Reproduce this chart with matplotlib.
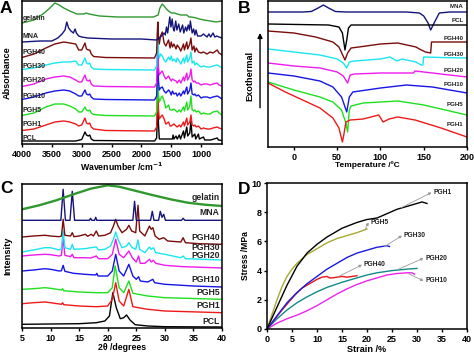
import matplotlib
matplotlib.use('Agg')
import matplotlib.pyplot as plt

plt.rcParams['font.family'] = ['Liberation Sans', 'DejaVu Sans']
plt.rcParams['font.weight'] = 'bold'
plt.rcParams['axes.linewidth'] = 1.1
plt.rcParams['xtick.major.width'] = 1.0
plt.rcParams['ytick.major.width'] = 1.0
plt.rcParams['xtick.major.size'] = 2.5
plt.rcParams['ytick.major.size'] = 2.5
plt.rcParams['mathtext.default'] = 'bf'

# ---------------- colours ----------------
C_GEL = '#2f992f'; C_MNA = '#14147a'; C_40 = '#7a0c0c'; C_30 = '#19e6f0'
C_20 = '#ee1aee'; C_10 = '#1515e6'; C_5 = '#1ee01e'; C_1 = '#ee1a1a'; C_PCL = '#000000'

# ---------------- Panel A : FTIR ----------------
ftir_names = ['PCL', 'PGH1', 'PGH5', 'PGH10', 'PGH20', 'PGH30', 'PGH40', 'MNA', 'gelatin']
ftir_offsets = [3, 13, 28, 44, 57, 74, 86, 105, 127]
wn_pgh = [4000, 3800, 3600, 3450, 3300, 3200, 3100, 3050, 3000, 2945, 2920, 2890, 2865, 2840,
          2800, 2600, 1780, 1745, 1735, 1725, 1715, 1700, 1680, 1650, 1620, 1590, 1545, 1520,
          1500, 1480, 1455, 1420, 1400, 1365, 1340, 1295, 1280, 1240, 1225, 1190, 1170, 1150,
          1120, 1105, 1080, 1045, 1000, 960, 900, 850, 800, 730, 700, 650]
ab_pgh1 = [0.5, 2, 6, 9, 10, 9, 7, 5, 6, 13, 8, 7, 8, 4, 2, 0.5, 0, 4, 20, 45, 22, 12, 14, 16,
           12, 7, 9, 5, 5, 6, 7, 5, 4, 6, 4, 9, 5, 13, 6, 9, 16, 6, 5, 6, 4, 5, 2, 3, 2, 2, 3, 4, 3, 2]
ab_pgh5 = [0.5, 3, 9, 12, 12, 10, 7, 4, 4, 9, 6, 5, 6, 3, 1.5, 0.5, 0, 4, 20, 42, 22, 14, 17, 20,
           15, 8, 11, 6, 6, 6, 7, 5, 4, 6, 4, 9, 5, 14, 6, 10, 20, 6, 5, 6, 4, 5, 2, 3, 2, 2, 4, 5, 3, 1]
ab_pgh10 = [0.5, 3, 7, 9, 10, 9, 6, 4, 4, 10, 6, 5, 6, 3, 1, 0.5, 0, 4, 22, 42, 20, 10, 12, 13,
            9, 7, 10, 8, 5, 9, 6, 7, 4, 7, 4, 9, 6, 13, 6, 10, 17, 6, 5, 6, 4, 5, 2, 3, 3, 2, 3, 4, 3, 1]
ab_pgh20 = [0.5, 3, 8, 10, 11, 10, 7, 5, 5, 12, 7, 6, 7, 3, 1, 0.5, 0, 4, 22, 40, 20, 12, 14, 16,
            11, 8, 11, 8, 6, 8, 7, 6, 4, 7, 4, 10, 6, 14, 7, 11, 18, 7, 5, 6, 4, 4, 2, 3, 3, 2, 3, 4, 2, 1]
ab_pgh30 = [0.5, 2, 5, 7, 8, 8, 9, 5, 5, 12, 7, 6, 7, 3, 1, 0.5, 0, 4, 22, 38, 18, 12, 16, 14,
            10, 8, 13, 10, 14, 9, 11, 8, 12, 9, 6, 12, 7, 15, 8, 12, 18, 7, 9, 5, 7, 5, 3, 4, 3, 3, 4, 5, 4, 2]
ab_pgh40 = [0.5, 4, 10, 14, 16, 15, 14, 8, 8, 15, 9, 8, 8, 4, 1.5, 0.5, 0, 5, 24, 36, 22, 14, 22, 26,
            15, 12, 18, 10, 16, 11, 14, 9, 13, 10, 7, 14, 8, 16, 9, 14, 20, 8, 12, 6, 10, 6, 5, 6, 4, 6, 5, 8, 5, 3]
wn_pcl = [4000, 3100, 3000, 2945, 2920, 2890, 2865, 2840, 2800, 1780, 1745, 1735, 1725, 1715, 1700,
          1480, 1470, 1455, 1420, 1400, 1365, 1345, 1295, 1280, 1240, 1225, 1190, 1170, 1150, 1105,
          1090, 1045, 1030, 960, 940, 840, 730, 710, 650]
ab_pcl = [0, 0, 1.5, 9, 6, 5, 6, 2, 0.5, 0, 3, 20, 62, 18, 2, 2, 6, 2, 5, 2, 6, 2, 10, 3, 14, 5, 8,
          20, 4, 7, 2, 7, 2, 4, 1, 1, 3, 1, 0.5]
wn_mna = [4000, 3700, 3500, 3400, 3330, 3280, 3250, 3220, 3180, 3140, 3110, 3090, 3050, 3000, 2900,
          2500, 2000, 1750, 1680, 1620, 1600, 1580, 1560, 1525, 1505, 1485, 1465, 1450, 1425, 1405,
          1375, 1350, 1310, 1290, 1260, 1240, 1215, 1195, 1180, 1150, 1125, 1105, 1085, 1060, 1000,
          960, 900, 870, 840, 800, 770, 740, 700, 650]
ab_mna = [-3, -2, -2, 1, 5, 9, 17, 11, 8, 6, 10, 6, 3, 2, 1, 0, 0, -1, 2, 6, 4, 12, 6, 22, 12, 20,
          10, 8, 18, 9, 15, 7, 14, 6, 12, 8, 14, 9, 18, 6, 10, 4, 9, 3, 3, 5, 2, 5, 2, 6, 2, 3, 2, 1]
wn_gel = [4000, 3800, 3650, 3550, 3450, 3380, 3300, 3200, 3080, 2960, 2930, 2880, 2700, 2400, 2000,
          1800, 1720, 1690, 1650, 1620, 1580, 1545, 1500, 1450, 1400, 1340, 1240, 1200, 1160, 1080,
          1030, 950, 850, 750, 650]
ab_gel = [-6, -3, 3, 8, 14, 12, 9, 6, 3, 3, 4, 3, 1, 0, 0, 0, 2, 9, 13, 11, 8, 6, 4, 4, 3, 2, 2, 0,
          0, -1, -2, -3, -4, -5, -4]
ftir_x = [wn_pcl, wn_pgh, wn_pgh, wn_pgh, wn_pgh, wn_pgh, wn_pgh, wn_mna, wn_gel]
ftir_y = [ab_pcl, ab_pgh1, ab_pgh5, ab_pgh10, ab_pgh20, ab_pgh30, ab_pgh40, ab_mna, ab_gel]
ftir_colors = [C_PCL, C_1, C_5, C_10, C_20, C_30, C_40, C_MNA, C_GEL]
ftir_label_y = [5, 19, 34, 47, 63, 77, 92, 107, 126]

# ---------------- Panel B : DSC ----------------
dsc_names = ['MNA', 'PCL', 'PGH40', 'PGH30', 'PGH20', 'PGH10', 'PGH5', 'PGH1']
t_mna = [-30, 10, 20, 28, 34, 40, 48, 60, 100, 130, 145, 150, 155, 158, 162, 168, 180, 200]
h_mna = [135, 135, 135.5, 139, 142, 139, 135.5, 135, 135, 135, 134, 131, 124, 117, 124, 134, 135, 135]
t_pcl = [-30, 40, 52, 56, 59, 61, 63, 66, 200]
h_pcl = [123, 122, 120, 114, 97, 107, 119, 122, 122]
t_40 = [-30, 0, 25, 45, 52, 59, 62, 66, 75, 100, 120, 141, 145, 152, 158, 159, 170, 200]
h_40 = [116, 114, 110, 105, 100, 87, 94, 99, 100, 103, 104, 100, 98, 95, 94, 105, 105, 105]
t_30 = [-30, 0, 30, 50, 57, 61, 64, 70, 100, 111, 119, 125, 141, 147, 149, 150, 170, 200]
h_30 = [98, 95, 92, 88, 84, 79, 85, 86, 88, 90, 86, 88, 85, 82, 82, 90, 89.5, 89]
t_20 = [-30, 0, 30, 50, 57, 62, 65, 70, 100, 130, 138, 140, 160, 200]
h_20 = [84, 81, 79, 75, 71, 64, 72, 73, 74, 74, 74, 76, 74, 70]
t_10 = [-30, 0, 30, 45, 55, 61, 64, 68, 100, 130, 160, 200]
h_10 = [74, 71, 66, 60, 50, 35, 50, 55, 59, 62, 60, 54]
t_5 = [-30, 0, 30, 45, 55, 60, 62, 64, 66, 80, 100, 120, 150, 200]
h_5 = [65, 57, 50, 45, 37, 24, 15, 37, 41, 44, 45, 46, 42, 32]
t_1 = [-30, -10, 10, 30, 45, 52, 56, 58, 60, 65, 80, 98, 103, 110, 120, 140, 170, 200]
h_1 = [64, 55, 47, 39, 29, 19, 5, 14, 25, 27, 28, 32, 25, 28, 30, 27, 19, 10]
dsc_t = [t_mna, t_pcl, t_40, t_30, t_20, t_10, t_5, t_1]
dsc_h = [h_mna, h_pcl, h_40, h_30, h_20, h_10, h_5, h_1]
dsc_colors = [C_MNA, C_PCL, C_40, C_30, C_20, C_10, C_5, C_1]
dsc_label_y = [140, 126, 108, 93, 77, 62, 42, 22]

# ---------------- Panel C : XRD ----------------
tt_gel = [5, 8, 11, 14, 17, 20, 22, 25, 28, 31, 34, 37, 40]
i_gel = [118.7, 122.7, 127.7, 133.7, 139.3, 142.7, 141.3, 137.0, 132.7, 128.7, 125.3, 123.3, 122.0]
tt_mna = [5, 11.8, 12.2, 12.6, 13.4, 13.8, 14.2, 16.8, 17.0, 17.2, 17.7, 17.9, 18.1, 24.4, 24.7,
          25.0, 27.5, 27.8, 28.1, 28.9, 29.2, 29.5, 29.8, 30.1, 32.9, 33.2, 33.5, 40]
i_mna = [107.7, 107.7, 138.7, 107.7, 107.7, 136.7, 107.7, 107.7, 109.7, 107.7, 107.7, 110.7, 107.7,
         107.7, 126.7, 107.7, 107.7, 116.7, 107.7, 107.7, 116.7, 110.7, 113.7, 107.7, 107.7, 109.7,
         107.7, 107.7]
tt40 = [5, 7, 9, 10, 11.5, 11.9, 12.2, 12.5, 13.5, 13.8, 14.1, 15, 16.1, 16.5, 17.1, 17.5, 18, 18.4,
        19.5, 20.5, 21.0, 21.4, 21.8, 22.5, 23.3, 23.7, 24.2, 24.9, 25.3, 25.6, 26.5, 27.3, 27.6,
        27.9, 28.3, 29, 29.8, 30.5, 32.8, 33.2, 33.6, 36, 40]
i40 = [91.0, 92.0, 92.7, 92.0, 91.3, 92.0, 108.7, 92.7, 92.0, 95.3, 91.3, 92.0, 93.7, 91.7, 93.7,
       92.0, 97.0, 92.0, 92.7, 95.3, 102.0, 108.7, 102.0, 95.3, 98.7, 102.7, 97.0, 95.3, 122.7, 97.0,
       92.0, 102.0, 98.7, 100.3, 92.0, 88.7, 90.3, 87.0, 86.0, 90.3, 85.3, 84.3, 83.7]
tt30 = [5, 7, 9, 10, 11.5, 11.9, 12.2, 12.5, 13.5, 13.8, 14.1, 16, 17, 18, 18.4, 19.5, 20.5, 21,
        21.4, 21.8, 22.5, 23.3, 23.7, 24.3, 24.9, 25.3, 25.6, 26.5, 27.3, 27.6, 28, 28.4, 30, 32.8,
        33.2, 33.6, 40]
i30 = [76.0, 78.0, 80.3, 80.3, 78.0, 79.3, 97.0, 80.3, 78.7, 83.7, 78.7, 79.3, 80.3, 81.0, 78.0,
       78.7, 82.0, 88.7, 96.0, 88.7, 80.3, 82.0, 85.3, 80.3, 78.7, 88.0, 78.7, 75.3, 81.0, 78.7,
       80.3, 75.3, 73.7, 70.3, 72.0, 69.3, 68.0]
tt20 = [5, 7, 9, 10, 11.5, 11.9, 12.2, 12.5, 13.5, 13.8, 14.1, 16, 17, 18, 18.4, 20, 20.8, 21.4,
        22, 22.8, 23.7, 24.3, 25, 25.4, 25.7, 26.5, 27.3, 27.6, 28, 28.4, 30, 33.2, 35, 40]
i20 = [72.0, 73.0, 73.7, 73.3, 72.0, 72.7, 90.3, 72.7, 71.3, 73.7, 70.3, 70.3, 70.0, 72.0, 69.3,
       69.3, 73.7, 88.7, 73.7, 70.3, 77.0, 70.3, 66.0, 72.0, 64.7, 64.7, 68.7, 66.0, 67.7, 64.7,
       62.7, 61.3, 61.0, 60.0]
tt10 = [5, 7, 9, 10, 11.5, 11.9, 12.2, 12.5, 14, 16, 17.9, 18.1, 18.3, 20, 20.8, 21.4, 22, 22.8,
        23.7, 24.4, 25, 25.4, 25.7, 27, 27.9, 28.2, 30, 35, 40]
i10 = [57.0, 58.0, 59.3, 58.7, 57.0, 57.3, 62.7, 56.7, 54.7, 53.7, 53.0, 54.7, 52.0, 52.0, 57.0,
       73.7, 57.0, 52.0, 63.7, 52.0, 48.7, 51.3, 47.0, 46.0, 48.7, 45.3, 43.7, 42.0, 41.0]
tt5 = [5, 7, 9, 10, 11.9, 12.1, 12.3, 15, 18, 20, 20.8, 21.3, 22, 22.8, 23.7, 24.4, 27, 30, 40]
i5 = [38.7, 39.3, 40.3, 39.7, 38.0, 39.3, 37.3, 36.0, 35.3, 35.3, 40.3, 62.0, 40.3, 35.3, 47.0,
      34.7, 32.0, 30.3, 28.7]
tt1 = [5, 7, 9, 10, 11.9, 12.1, 12.3, 15, 18, 20, 20.8, 21.4, 22, 22.8, 23.7, 24.4, 27, 30, 40]
i1 = [24.3, 25.3, 26.0, 25.3, 23.7, 25.3, 23.3, 22.0, 21.3, 22.0, 28.7, 45.3, 27.0, 22.0, 38.7,
      21.3, 18.7, 17.0, 15.3]
tt_pcl = [5, 15, 18, 19.5, 20.3, 20.9, 21.5, 22.2, 22.8, 23.3, 23.9, 24.8, 27, 30, 40]
i_pcl = [3.7, 4.3, 5.3, 7.0, 12.0, 35.3, 20.3, 9.3, 10.3, 13.0, 8.0, 3.3, 2.0, 1.3, 1.0]
xrd_names = ['PCL', 'PGH1', 'PGH5', 'PGH10', 'PGH20', 'PGH30', 'PGH40', 'MNA', 'gelatin']
xrd_x = [tt_pcl, tt1, tt5, tt10, tt20, tt30, tt40, tt_mna, tt_gel]
xrd_y = [i_pcl, i1, i5, i10, i20, i30, i40, i_mna, i_gel]
xrd_colors = [C_PCL, C_1, C_5, C_10, C_20, C_30, C_40, C_MNA, C_GEL]
xrd_label_y = [7, 22, 35.3, 48.7, 72, 81, 91, 115.3, 130.3]

# ---------------- Panel D : tensile ----------------
s_pgh1 = [0, 2, 4, 6, 8, 10, 12, 15, 18, 20, 22, 24, 26, 28, 30, 31, 32]
m_pgh1 = [0, 1.5, 3.0, 4.3, 5.2, 5.8, 6.3, 6.9, 7.3, 7.5, 7.6, 7.9, 8.2, 8.4, 8.6, 8.7, 8.6]
s_pgh5 = [0, 1, 2, 3, 4, 5, 6, 8, 10, 12, 14, 16, 18, 20]
m_pgh5 = [0, 1.0, 2.0, 2.9, 3.6, 4.1, 4.5, 5.1, 5.5, 5.9, 6.2, 6.4, 6.6, 6.85]
s_pgh30 = [0, 2, 4, 6, 8, 10, 12, 14, 16, 18, 20, 22, 24, 24.5]
m_pgh30 = [0, 0.9, 1.8, 2.5, 3.1, 3.6, 4.1, 4.5, 4.9, 5.2, 5.4, 5.6, 5.7, 5.65]
s_pgh40 = [0, 3, 5.5, 7, 9, 10, 11, 12, 12.5, 13, 14, 15, 16, 17, 18]
m_pgh40 = [0, 1.3, 2.3, 2.8, 3.2, 3.4, 3.55, 3.6, 3.5, 3.5, 3.55, 3.6, 3.55, 3.6, 3.65]
s_pgh20 = [0, 2, 4, 6, 8, 10, 12, 15, 18, 20, 22, 25, 28, 30]
m_pgh20 = [0, 0.7, 1.3, 1.8, 2.2, 2.55, 2.85, 3.2, 3.5, 3.7, 3.85, 4.0, 4.1, 4.15]
s_pgh10 = [0, 2, 4, 6, 8, 10, 12, 14, 16, 18, 20, 22, 24, 26, 28, 29, 29.5]
m_pgh10 = [0, 0.4, 0.7, 0.95, 1.25, 1.6, 2.0, 2.4, 2.75, 3.05, 3.3, 3.5, 3.7, 3.8, 3.85, 3.85, 3.75]
tens_names = ['PGH10', 'PGH20', 'PGH40', 'PGH30', 'PGH5', 'PGH1']
tens_x = [s_pgh10, s_pgh20, s_pgh40, s_pgh30, s_pgh5, s_pgh1]
tens_y = [m_pgh10, m_pgh20, m_pgh40, m_pgh30, m_pgh5, m_pgh1]
tens_colors = ['#ee22ee', '#108a8a', '#e81515', '#1a1ae0', '#a8a832', '#000000']
# label position and the point on the curve the pointer starts from
tens_label_xy = [(31.6, 3.3), (31.6, 4.85), (19.3, 4.4), (27.3, 6.4), (20.6, 7.3), (33.2, 9.35)]
tens_from_xy = [(28.2, 3.8), (26.0, 4.05), (14.5, 3.62), (23.4, 5.62), (19.6, 6.8), (26.8, 8.3)]

# ---------------- figure ----------------
fig = plt.figure(figsize=(4.74, 3.53), dpi=100)


def px_axes(l, t, r, b):
    return fig.add_axes([l / 474, 1 - b / 353, (r - l) / 474, (b - t) / 353])


axA = px_axes(22, 1, 222, 144)
axB = px_axes(268, 1, 467, 147)
axC = px_axes(22, 184, 222, 328)
axD = px_axes(267, 183, 467, 329)

TICK_FS = 6.5

for ax in (axA, axB, axC, axD):
    ax.tick_params(labelsize=TICK_FS, direction='out', pad=1.5)

# Panel A
for x, y, off, c in zip(ftir_x, ftir_y, ftir_offsets, ftir_colors):
    axA.plot(x, [v + off for v in y], color=c, lw=1.0)
for name, ly in zip(ftir_names, ftir_label_y):
    axA.text(3985, ly, name, fontsize=5.0, fontweight='bold', color='#222222', va='center', ha='left')
axA.set_xlim(4000, 650)
axA.set_ylim(0, 143)
axA.set_xticks([4000, 3500, 3000, 2500, 2000, 1500, 1000])
axA.set_yticks([])
axA.set_xlabel('Wavenumber /cm$^{-1}$', fontsize=6.3, fontweight='bold')
axA.set_ylabel('Absorbance', fontsize=6.6, fontweight='bold')
axA.xaxis.set_label_coords(0.5, -0.115)
axA.yaxis.set_label_coords(-0.05, 0.5)

# Panel B
for t, h, c in zip(dsc_t, dsc_h, dsc_colors):
    axB.plot(t, h, color=c, lw=1.0)
for name, ly in zip(dsc_names, dsc_label_y):
    axB.text(196, ly, name, fontsize=4.4, fontweight='bold', color='#222222', ha='right', va='center')
axB.set_xlim(-30, 200)
axB.set_ylim(0, 146)
axB.set_xticks([0, 50, 100, 150, 200])
axB.set_yticks([])
axB.set_xlabel('Temperature /ºC', fontsize=6.0, fontweight='bold')
axB.xaxis.set_label_coords(0.5, -0.1)
axB.annotate('', xy=(-0.04, 0.80), xytext=(-0.04, 0.25), xycoords='axes fraction',
             arrowprops=dict(arrowstyle='-|>', color='k', lw=1.0, mutation_scale=7),
             annotation_clip=False)
axB.text(-0.09, 0.49, 'Exothermal', transform=axB.transAxes, rotation=90, fontsize=6.6,
         fontweight='bold', ha='center', va='center')

# Panel C
for x, y, c, name in zip(xrd_x, xrd_y, xrd_colors, xrd_names):
    axC.plot(x, y, color=c, lw=1.7 if name == 'gelatin' else 1.0)
for name, ly in zip(xrd_names, xrd_label_y):
    axC.text(39.6, ly, name, fontsize=6.2, fontweight='bold', color='#222222', ha='right', va='center')
axC.set_xlim(5, 40)
axC.set_ylim(0, 144)
axC.set_xticks([5, 10, 15, 20, 25, 30, 35, 40])
axC.set_yticks([])
axC.set_xlabel('2θ /degrees', fontsize=6.3, fontweight='bold')
axC.set_ylabel('Intensity', fontsize=6.7, fontweight='bold')
axC.xaxis.set_label_coords(0.5, -0.105)
axC.yaxis.set_label_coords(-0.05, 0.5)

# Panel D
for x, y, c in zip(tens_x, tens_y, tens_colors):
    axD.plot(x, y, color=c, lw=1.0)
for name, lxy, fxy in zip(tens_names, tens_label_xy, tens_from_xy):
    axD.annotate('', xy=(lxy[0] - 0.3, lxy[1]), xytext=fxy,
                 arrowprops=dict(arrowstyle='-|>', color='0.6', lw=0.6, mutation_scale=4,
                                 shrinkA=0, shrinkB=0))
    axD.text(lxy[0], lxy[1], name, fontsize=4.8, fontweight='bold', color='#222222',
             ha='left', va='center')
axD.set_xlim(0, 40)
axD.set_ylim(0, 10)
axD.set_xticks([0, 5, 10, 15, 20, 25, 30, 35, 40])
axD.set_yticks([0, 2, 4, 6, 8, 10])
axD.set_xlabel('Strain /%', fontsize=6.6, fontweight='bold')
axD.set_ylabel('Stress /MPa', fontsize=6.2, fontweight='bold')
axD.xaxis.set_label_coords(0.5, -0.108)
axD.yaxis.set_label_coords(-0.085, 0.5)

for ax in (axA, axB, axC, axD):
    for lab in ax.get_xticklabels() + ax.get_yticklabels():
        lab.set_fontweight('bold')

# panel letters
for letter, (px, py) in zip('ABCD', [(0, 1), (238, 1), (0, 181), (238, 182)]):
    fig.text(px / 474, 1 - py / 353, letter, fontsize=12.5, fontweight='bold', ha='left', va='top')

fig.savefig('out.png', dpi=100)
